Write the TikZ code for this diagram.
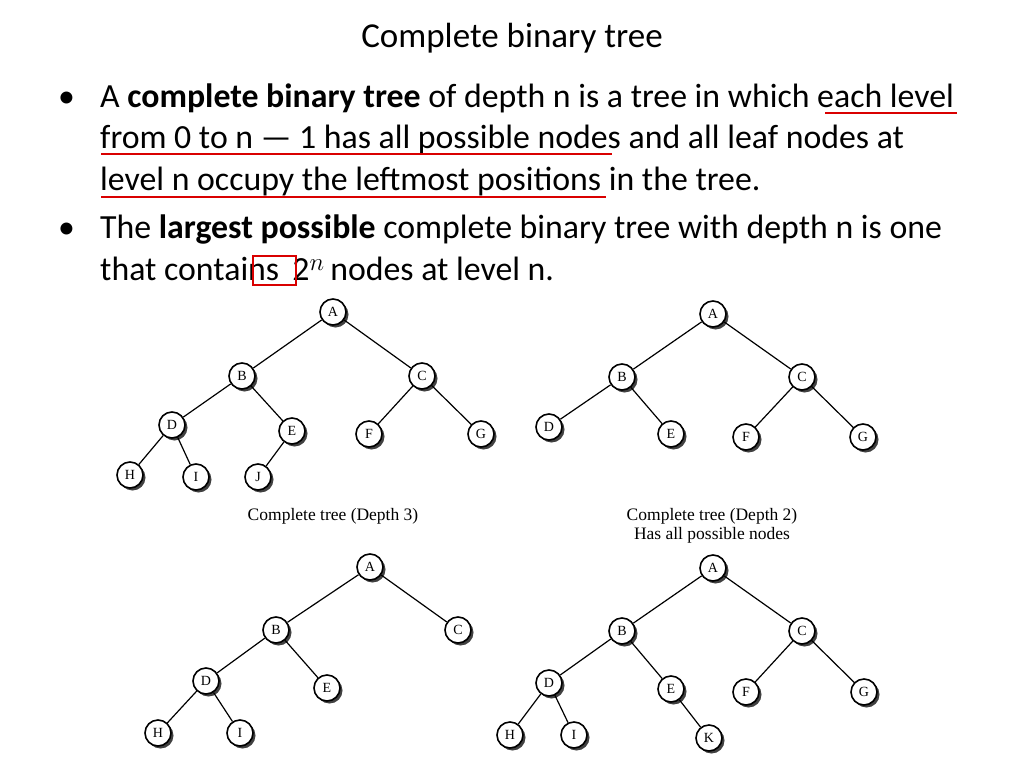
\documentclass[tikz,border=0pt]{standalone}
\usepackage{fontspec}
\setmainfont{Carlito}
\newfontfamily\tms{Liberation Serif}
\usetikzlibrary{shadows}
\begin{document}
\begin{tikzpicture}[x=1pt,y=-1pt,
  tn/.style={circle,draw,line width=1.6pt,fill=white,minimum size=26pt,inner sep=0pt,font=\tms\fontsize{14}{14}\selectfont,
    drop shadow={shadow xshift=2.5pt,shadow yshift=-2.5pt,fill=black!75,opacity=1}},
  ed/.style={line width=1.2pt},
  tx/.style={anchor=base west,inner sep=0pt,font=\fontsize{33.8}{35}\selectfont},
  captxt/.style={font=\tms\fontsize{17.5}{18}\selectfont,inner sep=0pt},
  ul/.style={red!85!black,line width=2pt}]
\useasboundingbox (0,0) rectangle (1024,768);
\node[font=\fontsize{35}{37}\selectfont] (title) at (512,38) {Complete binary tree};
\node[tx] (b1) at (58,107) {•};
\node[tx] (l1) at (100,107) {A \textbf{complete binary tree} of depth n is a tree in which each level};
\node[tx] (l2) at (100,148) {from 0 to n — 1 has all possible nodes and all leaf nodes at};
\node[tx] (l3) at (100,190) {level n occupy the leftmost positions in the tree.};
\node[tx] (b2) at (58,238) {•};
\node[tx] (l4) at (100,238) {The \textbf{largest possible} complete binary tree with depth n is one};
\node[tx] (l5) at (100,280) {that contains \,2$^{n}$\,nodes at level n.};
\draw[ul] (825,113) -- (957,113);
\draw[ul] (101,154) -- (612,154);
\draw[ul] (101,197) -- (606,197);
\draw[red!85!black,line width=1.6pt] (253,256) rectangle (296,285);
% tree 1
\foreach \n/\x/\y in {A/333/312,B/242/376,C/422/376,D/172/425,E/292/431,F/369/434,G/481/434,H/130/475,I/196/477,J/258/477}
  \node[tn] (a\n) at (\x,\y) {\n};
\foreach \p/\c in {A/B,A/C,B/D,B/E,C/F,C/G,D/H,D/I,E/J} \draw[ed] (a\p) -- (a\c);
\node[captxt] (c1) at (333,516) {Complete tree (Depth 3)};
% tree 2
\foreach \n/\x/\y in {A/713/314,B/622/377,C/802/377,D/549/427,E/671/434,F/746/437,G/863/437}
  \node[tn] (b\n) at (\x,\y) {\n};
\foreach \p/\c in {A/B,A/C,B/D,B/E,C/F,C/G} \draw[ed] (b\p) -- (b\c);
\node[captxt] (c2) at (712,516) {Complete tree (Depth 2)};
\node[captxt] (c3) at (712,535) {Has all possible nodes};
% tree 3
\foreach \n/\x/\y in {A/370/567,B/276/630,C/458/630,D/206/681,E/327/688,H/158/733,I/240/733}
  \node[tn] (c\n) at (\x,\y) {\n};
\foreach \p/\c in {A/B,A/C,B/D,B/E,D/H,D/I} \draw[ed] (c\p) -- (c\c);
% tree 4
\foreach \n/\x/\y in {A/713/568,B/622/631,C/802/631,D/549/683,E/671/689,F/746/692,G/864/692,H/510/735,I/574/735,K/709/738}
  \node[tn] (d\n) at (\x,\y) {\n};
\foreach \p/\c in {A/B,A/C,B/D,B/E,C/F,C/G,D/H,D/I,E/K} \draw[ed] (d\p) -- (d\c);
\end{tikzpicture}
\end{document}
